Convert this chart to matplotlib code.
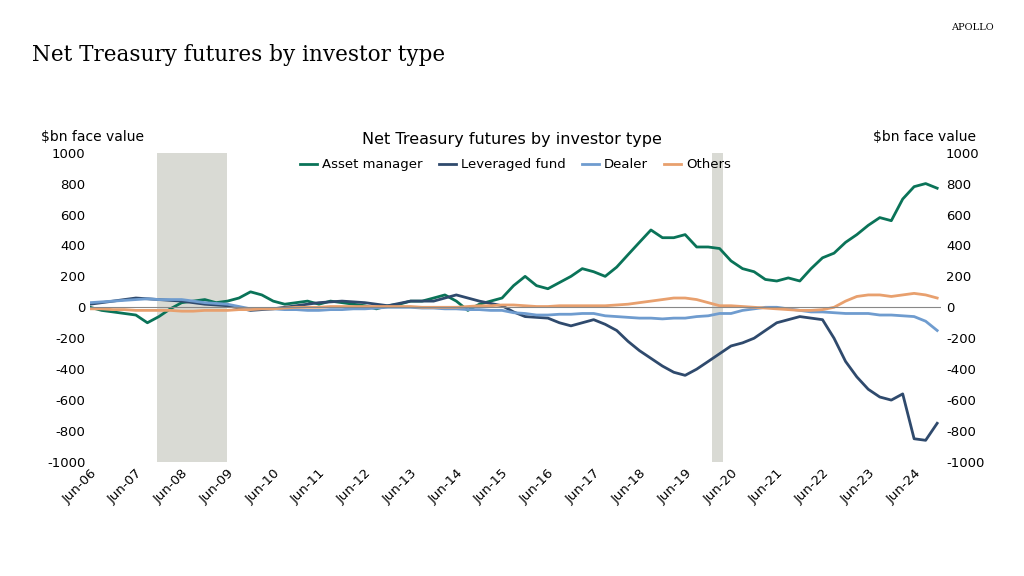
import pandas as pd
import matplotlib.pyplot as plt

plt.rcParams["axes.unicode_minus"] = False

# Quarterly readings, Jun-06 .. Dec-24 ($bn face value)
dates = pd.date_range("2006-06-30", "2024-12-31", freq="QE-DEC")

asset_manager = [0, -20, -30, -40, -50, -100, -60, -10, 30, 40, 50, 30, 40, 60, 100, 80,
                 40, 20, 30, 40, 20, 40, 30, 20, 10, -10, 10, 20, 40, 40, 60, 80,
                 40, -20, 20, 40, 60, 140, 200, 140, 120, 160, 200, 250, 230, 200, 260, 340,
                 420, 500, 450, 450, 470, 390, 390, 380, 300, 250, 230, 180, 170, 190, 170, 250,
                 320, 350, 420, 470, 530, 580, 560, 700, 780, 800, 770]
leveraged_fund = [20, 30, 40, 50, 60, 55, 50, 45, 40, 30, 20, 15, 10, -5, -20, -15,
                  -10, 0, 10, 20, 30, 35, 40, 35, 30, 20, 10, 25, 40, 40, 40, 60,
                  80, 60, 40, 25, 10, -30, -60, -65, -70, -100, -120, -100, -80, -110, -150, -220,
                  -280, -330, -380, -420, -440, -400, -350, -300, -250, -230, -200, -150, -100, -80, -60, -70,
                  -80, -200, -350, -450, -530, -580, -600, -560, -850, -860, -750]
dealer = [30, 35, 40, 45, 50, 55, 50, 50, 50, 40, 30, 25, 20, 5, -10, -10,
          -10, -15, -15, -20, -20, -15, -15, -10, -10, -5, 0, 0, 0, -5, -5, -10,
          -10, -15, -15, -20, -20, -35, -40, -50, -50, -45, -45, -40, -40, -55, -60, -65,
          -70, -70, -75, -70, -70, -60, -55, -40, -40, -20, -10, 0, 0, -10, -20, -30,
          -30, -35, -40, -40, -40, -50, -50, -55, -60, -90, -150]
others = [-10, -10, -15, -15, -20, -20, -20, -20, -25, -25, -20, -20, -20, -15, -15, -10,
          -10, -5, 0, 0, 0, 5, 5, 5, 5, 5, 5, 5, 5, 0, 0, 0,
          0, 5, 10, 10, 15, 15, 10, 5, 5, 10, 10, 10, 10, 10, 15, 20,
          30, 40, 50, 60, 60, 50, 30, 10, 10, 5, 0, -5, -10, -15, -20, -20,
          -15, 0, 40, 70, 80, 80, 70, 80, 90, 80, 60]

recessions = [("2007-12-15", "2009-06-30"), ("2020-02-01", "2020-04-30")]
tick_labels = [f"Jun-{y:02d}" for y in range(6, 25)]
tick_dates = pd.to_datetime([f"20{y:02d}-06-30" for y in range(6, 25)])

series = [("Asset manager", asset_manager, "#0a7358"),
          ("Leveraged fund", leveraged_fund, "#2f4a6d"),
          ("Dealer", dealer, "#6f9ccf"),
          ("Others", others, "#e8a06e")]

fig = plt.figure(figsize=(10.24, 5.76), dpi=100)
ax = fig.add_axes([0.088, 0.198, 0.831, 0.537])

for start, end in recessions:
    ax.axvspan(pd.Timestamp(start), pd.Timestamp(end), color="#d9dad4", lw=0)
for name, vals, col in series:
    ax.plot(dates, vals, color=col, lw=2, label=name)

ax.axhline(0, color="#888888", lw=0.8)
ax.set_ylim(-1000, 1000)
ax.set_yticks(range(-1000, 1001, 200))
ax.set_xlim(pd.Timestamp("2006-06-30"), pd.Timestamp("2025-01-31"))
ax.set_xticks(tick_dates)
ax.set_xticklabels(tick_labels, rotation=45, ha="right", rotation_mode="anchor")
ax.tick_params(labelsize=9.5, length=0, labelright=True)
for s in ax.spines.values():
    s.set_visible(False)

ax.legend(loc="upper center", ncol=4, frameon=False, fontsize=9.5,
          bbox_to_anchor=(0.5, 1.02), handlelength=1.3, columnspacing=1.2, handletextpad=0.4)

fig.text(0.031, 0.905, "Net Treasury futures by investor type", fontsize=15.5,
         family="DejaVu Serif", va="center")
fig.text(0.97, 0.952, "APOLLO", fontsize=7, family="DejaVu Serif", ha="right", va="center")
fig.text(0.5, 0.757, "Net Treasury futures by investor type", fontsize=11.5, ha="center", va="center")
fig.text(0.04, 0.763, "$bn face value", fontsize=10, va="center")
fig.text(0.953, 0.763, "$bn face value", fontsize=10, va="center", ha="right")

fig.savefig("out.png", dpi=100)
